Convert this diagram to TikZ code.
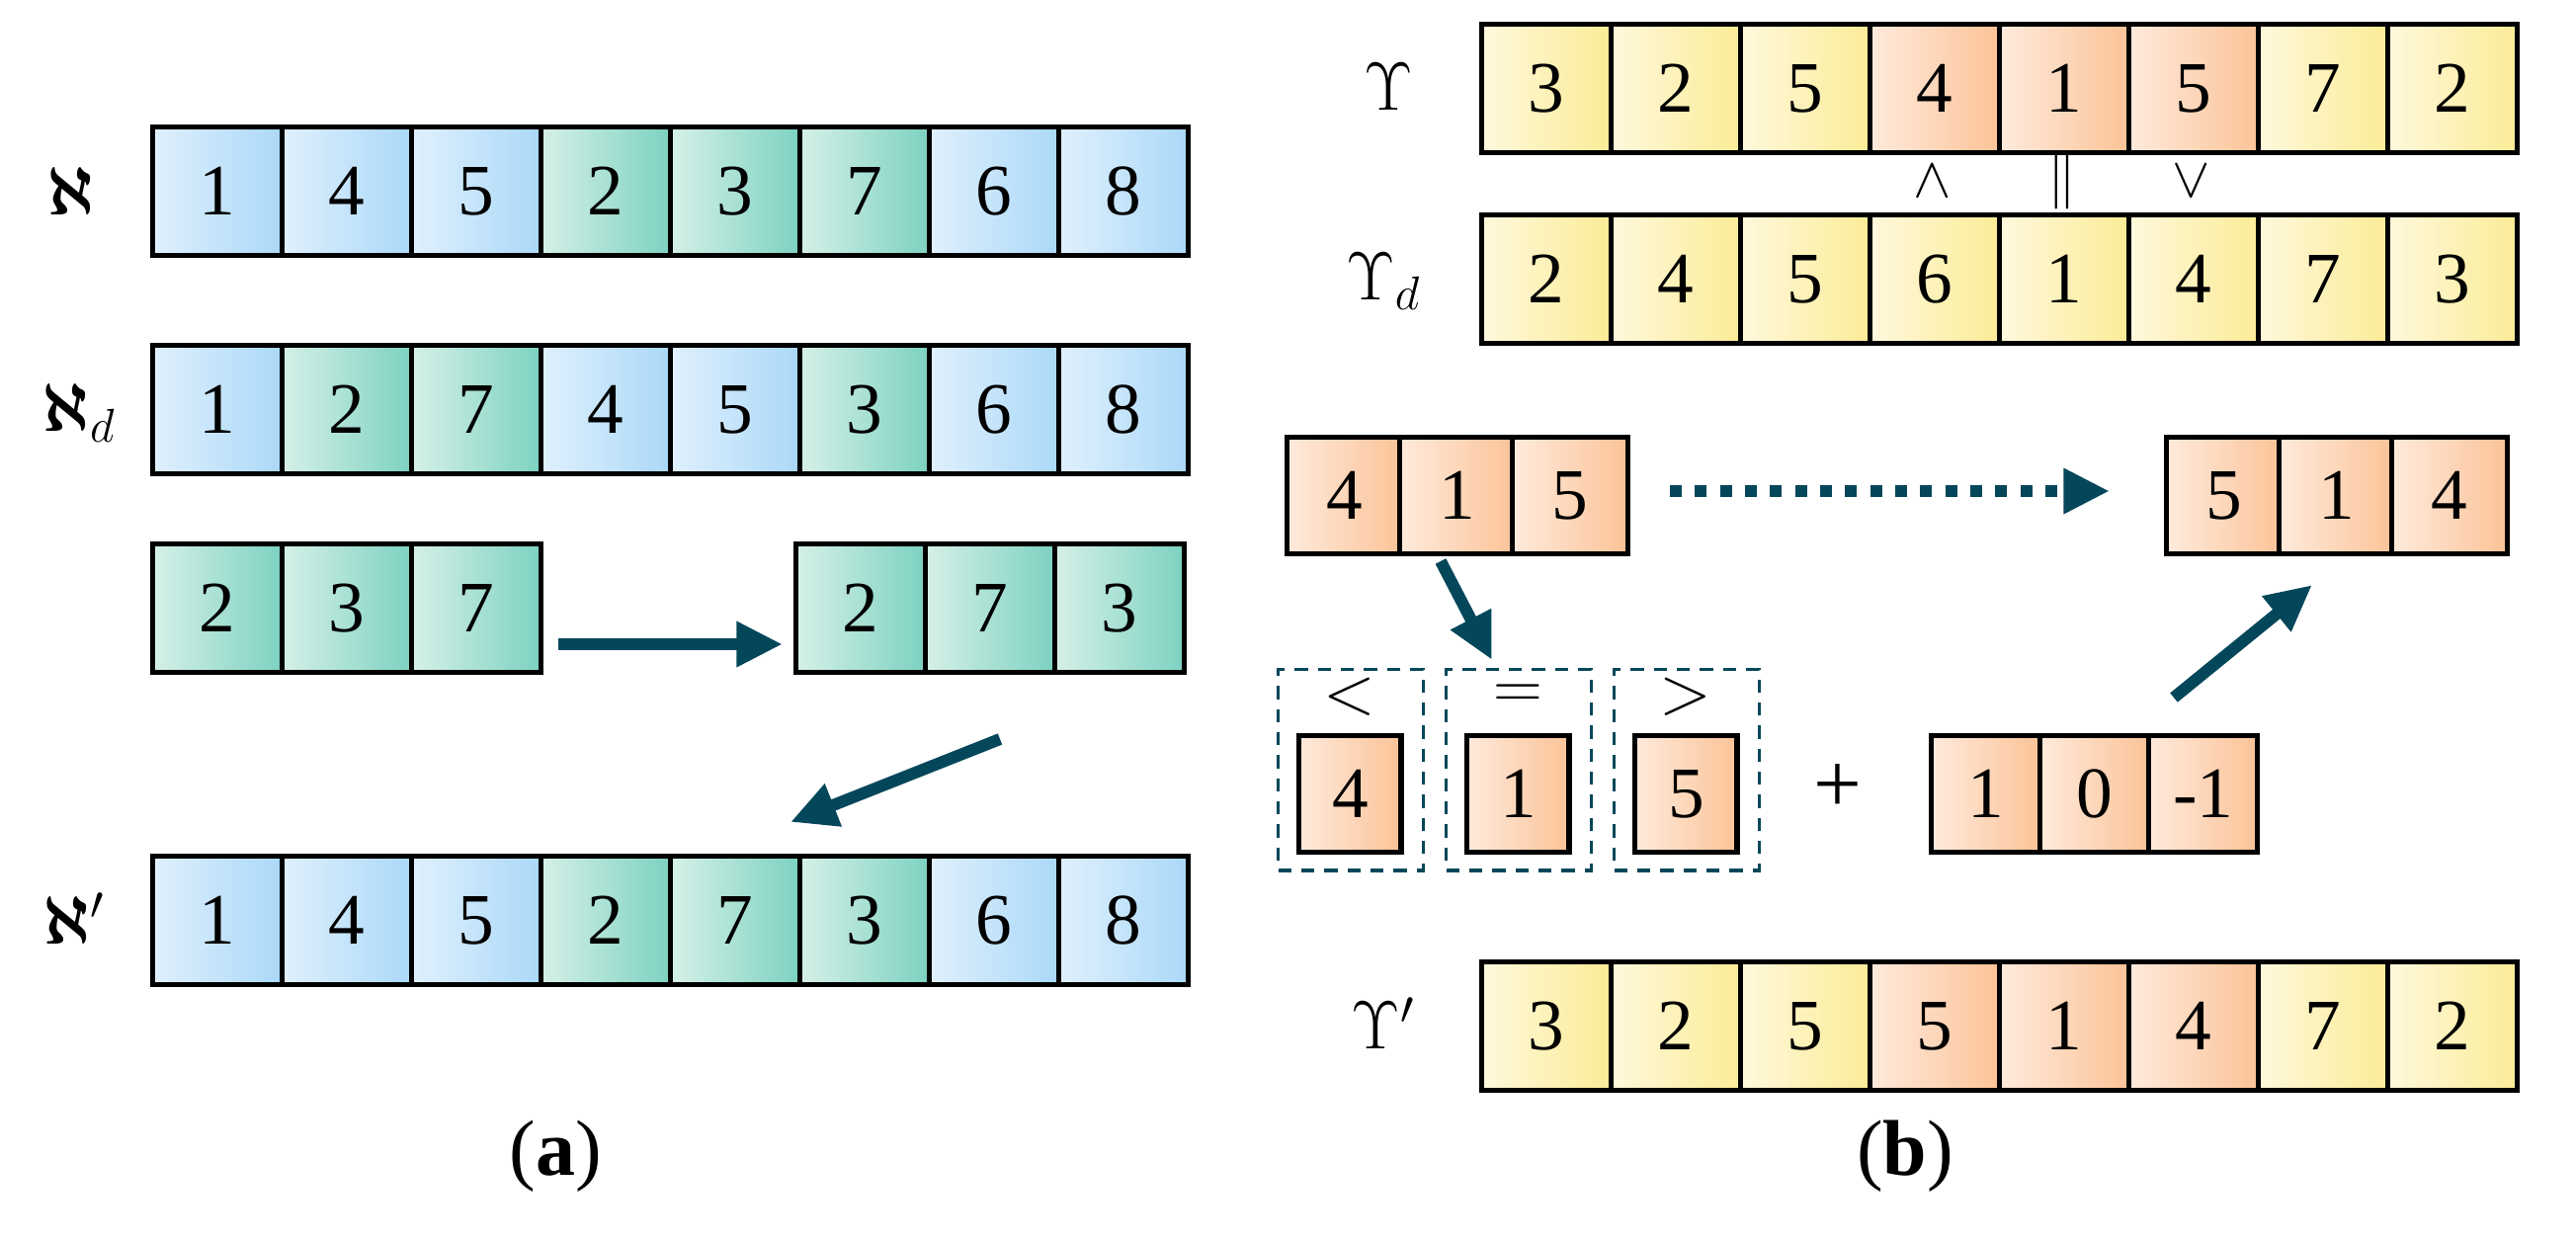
\documentclass[tikz,border=0pt]{standalone}
\usepackage{fontspec}
\usepackage{amsmath,bm}
\setmainfont{Liberation Serif}
\usetikzlibrary{arrows.meta}
\definecolor{bl1}{HTML}{E0F0FD}\definecolor{bl2}{HTML}{AAD8F8}
\definecolor{gr1}{HTML}{D6F0E8}\definecolor{gr2}{HTML}{7CD2C1}
\definecolor{ye1}{HTML}{FFF8DC}\definecolor{ye2}{HTML}{FBEC96}
\definecolor{or1}{HTML}{FFEADC}\definecolor{or2}{HTML}{FBC397}
\definecolor{arr}{HTML}{05475A}
\begin{document}
\begin{tikzpicture}[x=0.3pt,y=-0.3pt,
  cell/.style={draw,line width=1.6pt,inner sep=0pt,minimum width=39.3pt,minimum height=39pt,anchor=north west,font=\fontsize{22}{24}\selectfont},
  sc/.style={cell,minimum width=35pt,minimum height=35.4pt},
  B/.style={left color=bl1,right color=bl2},
  G/.style={left color=gr1,right color=gr2},
  Y/.style={left color=ye1,right color=ye2},
  O/.style={left color=or1,right color=or2},
  lab/.style={font=\fontsize{22}{24}\selectfont},
  bigarrow/.style={draw=arr,line width=3.6pt,-{Triangle[length=14pt,width=13pt]}},
  dbox/.style={draw=arr,dashed,line width=1pt,dash pattern=on 4pt off 3pt},
  sym/.style={font=\fontsize{20}{22}\selectfont}]
\useasboundingbox (0,0) rectangle (2607,1255);
% ---------- (a)
\node[lab] (la1) at (72,193) {$\bm{\aleph}$};
\foreach \v/\s [count=\i] in {1/B,4/B,5/B,2/G,3/G,7/G,6/B,8/B}
  \node[cell,\s] (a1-\i) at ({152+(\i-1)*131},126) {\v};
\node[lab] (la2) at (80,418) {$\bm{\aleph}_d$};
\foreach \v/\s [count=\i] in {1/B,2/G,7/G,4/B,5/B,3/G,6/B,8/B}
  \node[cell,\s] (a2-\i) at ({152+(\i-1)*131},347) {\v};
\foreach \v [count=\i] in {2,3,7}
  \node[cell,G] (a3-\i) at ({152+(\i-1)*131},548) {\v};
\foreach \v [count=\i] in {2,7,3}
  \node[cell,G] (a4-\i) at ({803+(\i-1)*131},548) {\v};
\node[lab] (la4) at (75,930) {$\bm{\aleph}'$};
\foreach \v/\s [count=\i] in {1/B,4/B,5/B,2/G,7/G,3/G,6/B,8/B}
  \node[cell,\s] (a5-\i) at ({152+(\i-1)*131},864) {\v};
\coordinate (p1) at (565,652); \coordinate (p2) at (792,652);
\draw[bigarrow] (p1) -- (p2);
\coordinate (p3) at (1012,748); \coordinate (p4) at (800,832);
\draw[bigarrow] (p3) -- (p4);
\node[font=\fontsize{24}{26}\selectfont] (capa) at (562,1170) {(\textbf{a})};
% ---------- (b)
\node[lab] (lb1) at (1405,88) {$\Upsilon$};
\foreach \v/\s [count=\i] in {3/Y,2/Y,5/Y,4/O,1/O,5/O,7/Y,2/Y}
  \node[cell,\s] (b1-\i) at ({1497+(\i-1)*131},22) {\v};
\node[sym,font=\fontsize{16}{18}\selectfont] (s1) at ({1497+3.5*131},183) {$\wedge$};
\node[sym,font=\fontsize{16}{18}\selectfont] (s2) at ({1497+4.5*131},183) {$\parallel$};
\node[sym,font=\fontsize{16}{18}\selectfont] (s3) at ({1497+5.5*131},183) {$\vee$};
\node[lab] (lb2) at (1400,285) {$\Upsilon_d$};
\foreach \v/\s [count=\i] in {2/Y,4/Y,5/Y,6/Y,1/Y,4/Y,7/Y,3/Y}
  \node[cell,\s] (b2-\i) at ({1497+(\i-1)*131},215) {\v};
\foreach \v [count=\i] in {4,1,5}
  \node[sc,O] (b3-\i) at ({1300+(\i-1)*114},440) {\v};
\foreach \v [count=\i] in {5,1,4}
  \node[sc,O] (b4-\i) at ({2190+(\i-1)*114},440) {\v};
\coordinate (q1) at (1690,497); \coordinate (q2) at (2135,497);
\draw[draw=arr,line width=3.6pt,dash pattern=on 3.6pt off 4pt,-{Triangle[length=14pt,width=13pt]}] (q1) -- (q2);
\coordinate (q3) at (1458,568); \coordinate (q4) at (1510,668);
\draw[bigarrow] (q3) -- (q4);
% dashed boxes
\foreach \s/\v/\x [count=\i] in {</4/1292,=/1/1462,>/5/1632}{
  \node[dbox,minimum width=44pt,minimum height=61pt,inner sep=0,anchor=north west] (db-\i) at (\x,676) {};
  \node[sym] (ds-\i) at ({\x+74},705) {$\s$};
  \node[sc,O,minimum width=31pt] (dc-\i) at ({\x+20},742) {\v};
}
\node[font=\fontsize{26}{28}\selectfont] (plus) at (1860,798) {+};
\foreach \v [count=\i] in {1,0,-1}
  \node[sc,O,minimum width=33pt] (b5-\i) at ({1952+(\i-1)*110},742) {\v};
\coordinate (q5) at (2200,706); \coordinate (q6) at (2340,592);
\draw[bigarrow] (q5) -- (q6);
\node[lab] (lb3) at (1400,1036) {$\Upsilon'$};
\foreach \v/\s [count=\i] in {3/Y,2/Y,5/Y,5/O,1/O,4/O,7/Y,2/Y}
  \node[cell,\s] (b6-\i) at ({1497+(\i-1)*131},971) {\v};
\node[font=\fontsize{24}{26}\selectfont] (capb) at (1928,1170) {(\textbf{b})};
\end{tikzpicture}
\end{document}
